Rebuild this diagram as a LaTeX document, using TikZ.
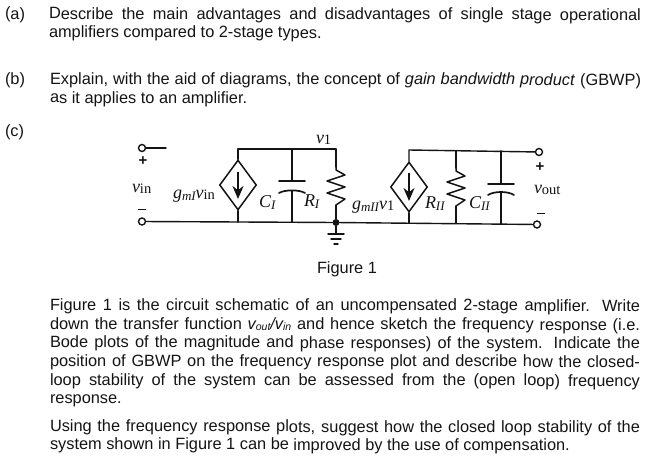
\documentclass[tikz,border=0pt]{standalone}
\usepackage{fontspec}
\setmainfont{Liberation Sans}
\newfontfamily\cirfont{Liberation Serif}
\usetikzlibrary{shapes.geometric,arrows.meta}
\definecolor{ink}{HTML}{141414}
\newcommand{\txt}[5]{\node[txtnode] (#1) at (#2,#3) {\makebox[#4pt][s]{#5}};}
\newcommand{\fre}[4]{\node[txtnode] (#1) at (#2,#3) {#4};}
\newcommand{\cir}[4]{\node[cirlab] (#1) at (#2,#3) {#4};}
\newcommand{\sbs}[1]{\raisebox{-1.5pt}{\fontsize{14.5}{15}\selectfont #1}}
\newcommand{\sbi}[1]{\raisebox{-2pt}{\fontsize{13}{13}\selectfont\itshape #1}}
\tikzset{
  txtnode/.style={anchor=base west,inner sep=0pt,outer sep=0pt,rotate=-0.12,font=\fontsize{16.35}{17}\selectfont,text=ink},
  cirlab/.style={anchor=base west,inner sep=0pt,outer sep=0pt,font=\cirfont\fontsize{18}{18}\selectfont\itshape,text=ink},
  wire/.style={draw=ink,line width=1.4pt,line cap=round,line join=round},
  term/.style={circle,draw=ink,line width=1.4pt,fill=white,minimum size=7pt,inner sep=0pt},
  dot/.style={circle,fill=ink,minimum size=7pt,inner sep=0pt},
  srcbox/.style={diamond,draw=ink,line width=1.5pt,minimum width=37pt,minimum height=50pt,aspect=0.74,inner sep=0pt},
  pmark/.style={anchor=center,inner sep=0pt,font=\fontsize{15}{15}\selectfont\bfseries,text=ink},
  pics/zres/.style={code={
    \draw[wire,line width=1.5pt] (0,0) -- (0,3) -- (9,8) -- (-9,14) -- (9,20) -- (-9,26) -- (9,32) -- (0,38);
  }},
  pics/gnd/.style={code={
    \draw[wire,line width=1.5pt] (-8,0) -- (8,0);
    \draw[wire] (-5,5) -- (5,5);
    \draw[wire] (-2,10) -- (2,10);
  }}
}
\begin{document}
\begin{tikzpicture}[x=1pt,y=-1pt]
\useasboundingbox (0,0) rectangle (646,460);
% question text
\fre{qa}{5}{19}{(a)}
\txt{a1}{49}{19}{592}{Describe the main advantages and disadvantages of single stage operational}
\fre{a2}{49}{37.5}{amplifiers compared to 2-stage types.}
\fre{qb}{5}{84}{(b)}
\txt{b1}{50}{84}{591}{Explain, with the aid of diagrams, the concept of \textit{gain bandwidth product} (GBWP)}
\fre{b2}{50}{103}{as it applies to an amplifier.}
\fre{qc}{5}{136}{(c)}
\fre{fig}{317}{273}{Figure 1}
\txt{p1}{50}{310}{590}{Figure 1 is the circuit schematic of an uncompensated 2-stage amplifier. Write}
\txt{p2}{50}{329}{590}{down the transfer function \textit{v\raisebox{-1.5pt}{\fontsize{10.5}{11}\selectfont out}/v\raisebox{-1.5pt}{\fontsize{10.5}{11}\selectfont in}} and hence sketch the frequency response (i.e.}
\txt{p3}{50}{347.5}{590}{Bode plots of the magnitude and phase responses) of the system. Indicate the}
\txt{p4}{50}{366}{590}{position of GBWP on the frequency response plot and describe how the closed-}
\txt{p5}{50}{385}{590}{loop stability of the system can be assessed from the (open loop) frequency}
\fre{p6}{50}{403.5}{response.}
\txt{p7}{50}{431.5}{590}{Using the frequency response plots, suggest how the closed loop stability of the}
\fre{p8}{50}{449.5}{system shown in Figure 1 can be improved by the use of compensation.}
% circuit: terminals and junctions
\node[term] (inp) at (142,148) {};
\node[term] (inn) at (142,221.5) {};
\coordinate (instub) at (166,148);
\node[term] (outp) at (539,152) {};
\node[term] (outn) at (537,224.5) {};
\node[dot] (g) at (336,222.5) {};
\node[srcbox] (s1) at (238,185) {};
\node[srcbox] (s2) at (409,187) {};
\coordinate (t1) at (238,149);
\coordinate (c1t) at (292,149);
\coordinate (r1t) at (336,149);
\coordinate (b1) at (238,222);
\coordinate (c1b) at (292,222);
\coordinate (t2) at (409,150);
\coordinate (r2t) at (456,150.5);
\coordinate (c2t) at (501,151);
\coordinate (b2) at (409,223);
\coordinate (r2b) at (456,223.5);
\coordinate (c2b) at (501,224);
% wires
\draw[wire] (inp) -- (instub);
\draw[wire] (inn) -- (g) -- (outn);
\draw[wire] (s1.north) -- (t1) -- (r1t);
\draw[wire] (s1.south) -- (b1);
\draw[wire] (s2.north) -- (t2) -- (outp);
\draw[wire] (s2.south) -- (b2);
% source arrows
\draw[ink,line width=1.9pt,-{Stealth[length=13pt,width=11pt]}] (238,172) -- (238,199);
\draw[ink,line width=1.9pt,-{Stealth[length=13pt,width=11pt]}] (409,173) -- (409,201);
% C I
\coordinate (c1a) at (292,181);
\coordinate (c1c) at (292,191);
\draw[wire] (c1t) -- (c1a);
\draw[wire,line width=1.7pt] (279,181) -- (305,181);
\draw[wire,line width=1.7pt] (279,193) .. controls (285,189.5) and (299,189.5) .. (305,193);
\draw[wire] (c1c) -- (c1b);
% R I
\draw[wire] (r1t) -- (336,167);
\pic at (336,167) {zres};
\draw[wire] (336,205) -- (g);
% R II
\draw[wire] (r2t) -- (456,168);
\pic at (456,168) {zres};
\draw[wire] (456,206) -- (r2b);
% C II
\coordinate (c2a) at (501,184);
\coordinate (c2c) at (501,192);
\draw[wire] (c2t) -- (c2a);
\draw[wire,line width=1.7pt] (488,184) -- (514,184);
\draw[wire,line width=1.7pt] (488,195) .. controls (494,191) and (508,191) .. (514,195);
\draw[wire] (c2c) -- (c2b);
% ground
\coordinate (gb) at (336,234);
\draw[wire] (g) -- (gb);
\pic at (gb) {gnd};
% labels
\cir{lv1}{316}{143}{v\sbs{\upshape 1}}
\node[pmark] (ip) at (143,161) {+};
\node[pmark] (im) at (142,209) {\rule{8pt}{1pt}};
\cir{lvin}{132}{192}{v\sbs{\upshape in}}
\cir{lgm1}{173}{198}{g\sbi{mI}v\sbs{\upshape in}}
\cir{lc1}{259}{207}{C\sbi{I}}
\cir{lr1}{304}{206}{R\sbi{I}}
\cir{lgm2}{352}{209}{g\sbi{mII}v\sbs{\upshape 1}}
\cir{lr2}{425}{208}{R\sbi{II}}
\cir{lc2}{469}{208}{C\sbi{II}}
\cir{lvo}{534}{193}{v\sbs{\upshape out}}
\node[pmark] (op) at (540,167) {+};
\node[pmark] (om) at (541,213) {\rule{8pt}{1pt}};
\end{tikzpicture}
\end{document}
